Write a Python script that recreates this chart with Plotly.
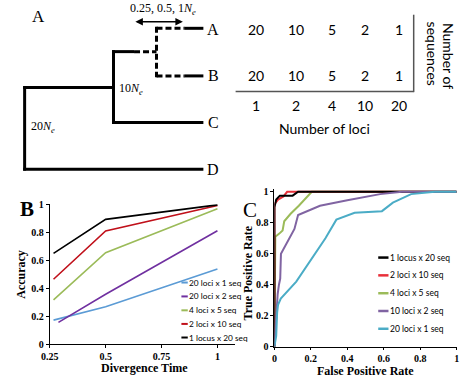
import plotly.graph_objects as go

W, H = 474, 385

# ---------------- Panel A: table values ----------------
seq_counts = [20, 10, 5, 2, 1]
loci_counts = [1, 2, 4, 10, 20]
tree_tips = ["A", "B", "C", "D"]

# ---------------- Panel B data ----------------
div_time = [0.267, 0.5, 1.0]
div_time_b2 = [0.289, 0.5, 1.0]
acc_20x1 = [0.171, 0.266, 0.537]
acc_20x2 = [0.155, 0.356, 0.810]
acc_4x5 = [0.315, 0.653, 0.967]
acc_2x10 = [0.463, 0.808, 0.990]
acc_1x20 = [0.648, 0.891, 0.995]
b_labels = ["20 loci x 1 seq", "20 loci x 2 seq", "4 loci x 5 seq",
            "2 loci x 10 seq", "1 locus x 20 seq"]

# ---------------- Panel C data (ROC) ----------------
fpr_1x20 = [0, 0, 0.01, 0.03, 0.10, 0.13, 1.0]
tpr_1x20 = [0, 0.90, 0.95, 0.975, 0.975, 1.0, 1.0]
fpr_2x10 = [0, 0, 0.02, 0.05, 0.07, 1.0]
tpr_2x10 = [0, 0.92, 0.95, 0.97, 1.0, 1.0]
fpr_4x5 = [0, 0.003, 0.005, 0.027, 0.045, 0.054, 0.089, 0.134, 0.188, 0.205, 1.0]
tpr_4x5 = [0, 0.45, 0.71, 0.73, 0.75, 0.81, 0.858, 0.91, 0.983, 1.0, 1.0]
fpr_10x2 = [0, 0.005, 0.01, 0.018, 0.025, 0.032, 0.036, 0.07, 0.11, 0.13, 0.25, 0.40, 0.58, 0.70, 1.0]
tpr_10x2 = [0, 0.10, 0.25, 0.34, 0.40, 0.44, 0.60, 0.67, 0.76, 0.85, 0.91, 0.945, 0.985, 1.0, 1.0]
fpr_20x1 = [0, 0.005, 0.01, 0.015, 0.02, 0.035, 0.12, 0.28, 0.34, 0.44, 0.59, 0.65, 0.75, 0.88, 1.0]
tpr_20x1 = [0, 0.03, 0.07, 0.22, 0.27, 0.31, 0.42, 0.70, 0.82, 0.865, 0.875, 0.93, 0.985, 1.0, 1.0]
c_labels = ["1 locus x 20 seq", "2 loci x 10 seq", "4 loci x 5 seq",
            "10 loci x 2 seq", "20 loci x 1 seq"]

SERIF = "Liberation Serif"
SANS = "Lato"

def px(x):
    return x / W

def py(y):
    return 1 - y / H

fig = go.Figure()

# ---- Panel B traces ----
b_colors = ["#5b9bd5", "#7030a0", "#9bbb59", "#c0101a", "#000000"]
b_series = [(div_time, acc_20x1), (div_time_b2, acc_20x2), (div_time, acc_4x5),
            (div_time, acc_2x10), (div_time, acc_1x20)]
for (xs, ys), col, lab in zip(b_series, b_colors, b_labels):
    fig.add_trace(go.Scatter(x=xs, y=ys, mode="lines", line=dict(color=col, width=1.6),
                             name=lab, showlegend=False, xaxis="x", yaxis="y"))

# ---- Panel C traces ----
c_colors = ["#000000", "#e8303a", "#9bbb59", "#8064a2", "#4bacc6"]
c_series = [(fpr_1x20, tpr_1x20), (fpr_2x10, tpr_2x10), (fpr_4x5, tpr_4x5),
            (fpr_10x2, tpr_10x2), (fpr_20x1, tpr_20x1)]
draw_order = [2, 1, 0, 3, 4]
for i in draw_order:
    xs, ys = c_series[i]
    fig.add_trace(go.Scatter(x=xs, y=ys, mode="lines", line=dict(color=c_colors[i], width=2),
                             name=c_labels[i], showlegend=False, xaxis="x2", yaxis="y2"))

tickfont = dict(family=SERIF, size=10, color="black", weight="bold")
axis_common = dict(showline=True, linecolor="black", linewidth=1, showgrid=False,
                   zeroline=False, ticks="outside", ticklen=3, tickcolor="black",
                   tickfont=tickfont, fixedrange=True)

fig.update_layout(
    width=W, height=H, margin=dict(l=0, r=0, t=0, b=0),
    paper_bgcolor="white", plot_bgcolor="rgba(0,0,0,0)", showlegend=False,
    xaxis=dict(domain=[px(41.7), px(231.7)], range=[0.25, 1.08], anchor="y",
               tickvals=[0.25, 0.5, 0.75, 1], ticktext=["0.25", "0.5", "0.75", "1"],
               **axis_common),
    yaxis=dict(domain=[py(349), py(205)], range=[0, 1], anchor="x",
               tickvals=[0, 0.2, 0.4, 0.6, 0.8, 1], ticktext=["0", "0.2", "0.4", "0.6", "0.8", "1"],
               **axis_common),
    xaxis2=dict(domain=[px(271.7), px(458.3)], range=[0, 1], anchor="y2",
                tickvals=[0, 0.2, 0.4, 0.6, 0.8, 1], ticktext=["0", "0.2", "0.4", "0.6", "0.8", "1"],
                **axis_common),
    yaxis2=dict(domain=[py(351.7), py(189.9)], range=[0, 1.015], anchor="x2",
                tickvals=[0, 0.2, 0.4, 0.6, 0.8, 1], ticktext=["0", "0.2", "0.4", "0.6", "0.8", "1"],
                **axis_common),
)
fig.update_xaxes(ticklen=2, selector=dict(anchor="y2"))

shapes = []
annotations = []

def seg(x0, y0, x1, y1, width=3, color="black", dash=None):
    line = dict(color=color, width=width)
    if dash:
        line["dash"] = dash
    shapes.append(dict(type="line", xref="paper", yref="paper",
                       x0=px(x0), y0=py(y0), x1=px(x1), y1=py(y1), line=line))

def text(x, y, s, size, family=SERIF, xanchor="center", yanchor="middle", angle=0, weight="normal", color="black"):
    annotations.append(dict(x=px(x), y=py(y), xref="paper", yref="paper", text=s,
                            showarrow=False, xanchor=xanchor, yanchor=yanchor, textangle=angle,
                            borderpad=0,
                            font=dict(family=family, size=size, color=color, weight=weight)))

# ---- Panel A: tree ----
dash_pat = "6px,3px"
seg(16, 83.5, 16, 170.5)
seg(14.5, 169, 199, 169)
seg(14.5, 85, 107, 85)
seg(107, 46.5, 107, 122.5)
seg(105.5, 121, 199, 121)
seg(105.5, 48, 128, 48)
seg(128, 48, 151, 48, dash=dash_pat)
seg(151, 22.5, 151, 74.5, dash=dash_pat)
seg(151, 24, 180, 24, dash=dash_pat)
seg(151, 73, 180, 73, dash=dash_pat)
seg(180, 24, 199, 24)
seg(180, 73, 199, 73)

tip_y = [25, 72.7, 121, 169]
for lab, yy in zip(tree_tips, tip_y):
    text(209, yy, lab, 16)

text(30, 12, "A", 17)
text(112, 86, "10<i>N</i><sub><i>e</i></sub>", 12, xanchor="left")
text(21, 126, "20<i>N</i><sub><i>e</i></sub>", 12, xanchor="left")
text(158, 4, "0.25, 0.5, 1<i>N</i><sub><i>e</i></sub>", 12)

# double-headed arrow
annotations.append(dict(x=px(178), y=py(17.3), ax=-(178 - 129), ay=0,
                        xref="paper", yref="paper", axref="pixel", ayref="pixel",
                        text="", showarrow=True, arrowhead=2, startarrowhead=2,
                        arrowside="end+start", arrowsize=1, arrowwidth=1.5, arrowcolor="black"))

# ---- Panel A: table ----
col_x = [253, 293.5, 331, 364.5, 399]
for cx, s in zip(col_x, seq_counts):
    text(cx, 25, str(s), 14, family=SANS)
    text(cx, 73, str(s), 14, family=SANS)
for cx, n in zip(col_x, loci_counts):
    text(cx, 103, str(n), 14, family=SANS)
seg(232, 89, 414.3, 89, width=1.5, color="#555555")
seg(414.3, 10, 414.3, 89.7, width=1.5, color="#555555")
text(323, 127, "Number of loci", 14, family=SANS)
text(450, 52, "Number of", 14, family=SANS, angle=90)
text(433, 50, "sequences", 14, family=SANS, angle=90)

# ---- Panel B labels & legend ----
text(18.5, 210, "B", 21, weight="bold")
text(12, 277, "Accuracy", 12, angle=-90, weight="bold")
text(138.5, 374, "Divergence Time", 12, weight="bold")
b_leg_y = [285.7, 300, 314.3, 328.3, 342.3]
for yy, col, lab in zip(b_leg_y, b_colors, b_labels):
    seg(176.5, yy, 183, yy, width=2, color=col)
    text(183.5, yy, lab, 8.3, family=SANS, xanchor="left")

# ---- Panel C labels & legend ----
text(247, 211, "C", 21)
text(245, 276, "True Positive Rate", 12, angle=-90, weight="bold")
text(365, 377, "False Positive Rate", 12, weight="bold")
c_leg_y = [260, 278.3, 296.7, 315, 333.3]
for yy, col, lab in zip(c_leg_y, c_colors, c_labels):
    seg(378, yy, 388.5, yy, width=2.5, color=col)
    text(389.5, yy, lab, 8.5, family=SANS, xanchor="left")

fig.update_layout(shapes=shapes, annotations=annotations)
fig.write_html("out.html")
